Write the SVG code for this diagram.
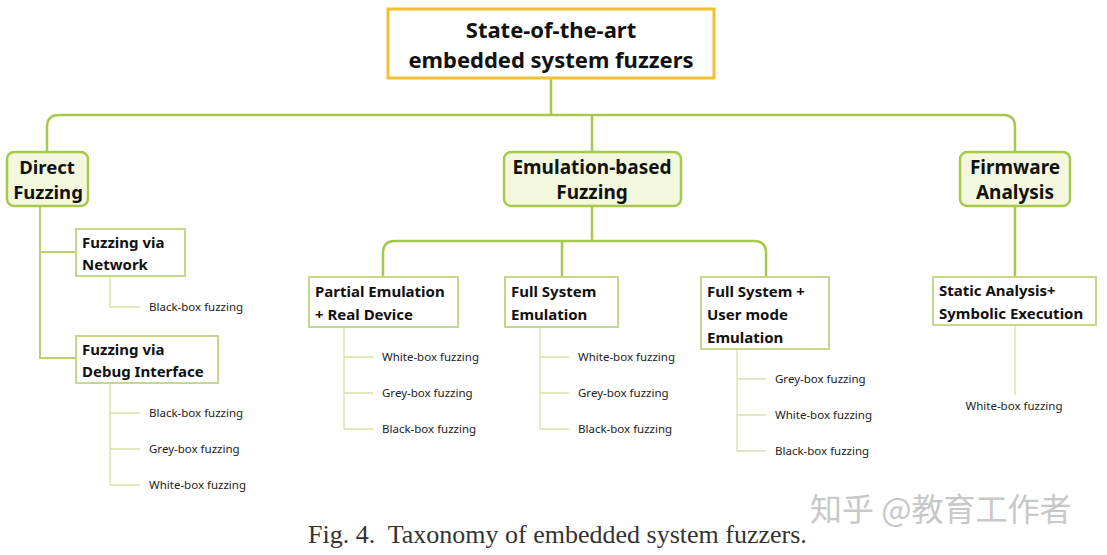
<svg xmlns="http://www.w3.org/2000/svg" width="1107" height="555" viewBox="0 0 1107 555">
<style>
.t{font-family:"Noto Sans","Open Sans",sans-serif;font-weight:bold;fill:#111}
.l1{fill:#f4f8dc;stroke:#a6c84c;stroke-width:2.5}
.l2{fill:#fff;stroke:#c3d88a;stroke-width:2}
.c{fill:none;stroke:#a6c84c;stroke-width:2.5}
.cl{fill:none;stroke:#d4e3a6;stroke-width:1.3}
.lf{font-family:"Noto Sans","Open Sans",sans-serif;font-size:11.5px;fill:#222}
</style>
<rect width="1107" height="555" fill="#fff"/>
<g id="connectors">
<path class="c" d="M551 78V115M47 152V127Q47 115 59 115H1003Q1015 115 1015 127V152M592 115V152"/>
<path class="c" d="M592 206V241M383 277V253Q383 241 395 241H754Q766 241 766 253V277M562 241V277"/>
<path class="c" d="M1015 206V277"/>
<path class="cl" style="stroke:#b8d070;stroke-width:2" d="M40 206V358H76M40 252H76"/>
<path class="cl" d="M110 276V307H140M110 383V485H140M110 413H140M110 449H140"/>
<path class="cl" d="M344 327V429H373M344 357H373M344 393H373"/>
<path class="cl" d="M540 327V429H569M540 357H569M540 393H569"/>
<path class="cl" d="M737 349V451H766M737 379H766M737 415H766"/>
<path class="cl" d="M1015 325V395"/>
</g>
<g id="root"><rect x="388" y="9" width="326" height="69" fill="#fff" stroke="#f2c12e" stroke-width="3"/>
<text class="t" x="551" y="38" font-size="22" text-anchor="middle">State-of-the-art</text>
<text class="t" x="551" y="68" font-size="22" text-anchor="middle">embedded system fuzzers</text></g>
<g id="direct"><rect class="l1" x="7" y="152" width="81" height="54" rx="7"/>
<text class="t" x="47" y="174" font-size="18.5" text-anchor="middle">Direct</text>
<text class="t" x="48" y="199" font-size="18.5" text-anchor="middle">Fuzzing</text></g>
<g id="emul"><rect class="l1" x="504" y="152" width="177" height="54" rx="7"/>
<text class="t" x="592" y="174" font-size="19" text-anchor="middle">Emulation-based</text>
<text class="t" x="592" y="199" font-size="19" text-anchor="middle">Fuzzing</text></g>
<g id="firm"><rect class="l1" x="960" y="152" width="110" height="54" rx="7"/>
<text class="t" x="1015" y="174" font-size="19" text-anchor="middle">Firmware</text>
<text class="t" x="1015" y="199" font-size="19" text-anchor="middle">Analysis</text></g>
<g id="net"><rect class="l2" x="76" y="229" width="109" height="47"/>
<text class="t" x="82" y="248" font-size="15">Fuzzing via</text>
<text class="t" x="82" y="270" font-size="15">Network</text></g>
<g id="debug"><rect class="l2" x="76" y="336" width="142" height="47"/>
<text class="t" x="82" y="355" font-size="15">Fuzzing via</text>
<text class="t" x="82" y="377" font-size="15">Debug Interface</text></g>
<g id="partial"><rect class="l2" x="309" y="277" width="149" height="50"/>
<text class="t" x="315" y="297" font-size="15">Partial Emulation</text>
<text class="t" x="315" y="320" font-size="15">+ Real Device</text></g>
<g id="full"><rect class="l2" x="505" y="277" width="113" height="50"/>
<text class="t" x="511" y="297" font-size="15">Full System</text>
<text class="t" x="511" y="320" font-size="15">Emulation</text></g>
<g id="fullu"><rect class="l2" x="701" y="277" width="128" height="72"/>
<text class="t" x="707" y="297" font-size="15">Full System +</text>
<text class="t" x="707" y="320" font-size="15">User mode</text>
<text class="t" x="707" y="343" font-size="15">Emulation</text></g>
<g id="static"><rect class="l2" x="933" y="277" width="163" height="48"/>
<text class="t" x="939" y="296" font-size="15">Static Analysis+</text>
<text class="t" x="939" y="319" font-size="15">Symbolic Execution</text></g>
<g id="leaves">
<text class="lf" x="149" y="311">Black-box fuzzing</text>
<text class="lf" x="149" y="417">Black-box fuzzing</text>
<text class="lf" x="149" y="453">Grey-box fuzzing</text>
<text class="lf" x="149" y="489">White-box fuzzing</text>
<text class="lf" x="382" y="361">White-box fuzzing</text>
<text class="lf" x="382" y="397">Grey-box fuzzing</text>
<text class="lf" x="382" y="433">Black-box fuzzing</text>
<text class="lf" x="578" y="361">White-box fuzzing</text>
<text class="lf" x="578" y="397">Grey-box fuzzing</text>
<text class="lf" x="578" y="433">Black-box fuzzing</text>
<text class="lf" x="775" y="383">Grey-box fuzzing</text>
<text class="lf" x="775" y="419">White-box fuzzing</text>
<text class="lf" x="775" y="455">Black-box fuzzing</text>
<text class="lf" x="1014" y="410" text-anchor="middle">White-box fuzzing</text>
</g>
<text x="810" y="521" font-family="Noto Sans CJK SC,sans-serif" font-size="32" fill="#c8c8c8">知乎 @教育工作者</text>
<text x="308" y="543" font-family="Liberation Serif,serif" font-size="26" fill="#333" xml:space="preserve">Fig. 4.  Taxonomy of embedded system fuzzers.</text>
</svg>
